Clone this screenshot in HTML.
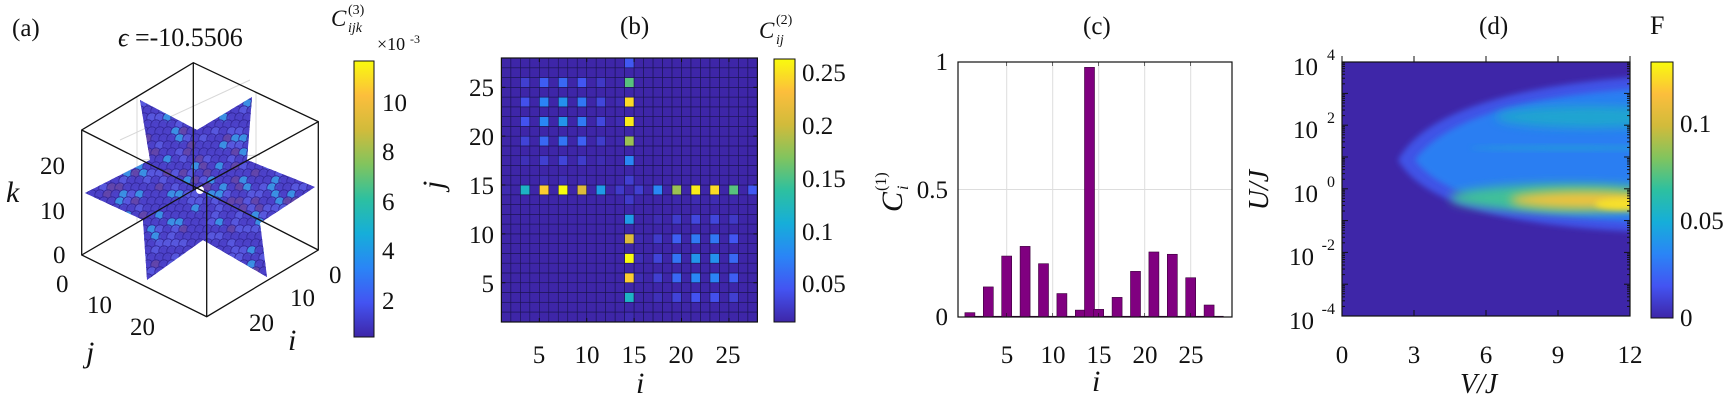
<!DOCTYPE html>
<html><head><meta charset="utf-8"><style>
html,body{margin:0;padding:0;background:#fff;}
svg{display:block;}
text{font-family:"Liberation Serif",serif;fill:#111;}
.t{font-size:25px;}
.it{font-style:italic;}
</style></head><body>
<svg id="s" width="1725" height="403" viewBox="0 0 1725 403" xmlns="http://www.w3.org/2000/svg">
<defs>
<linearGradient id="par" x1="0" y1="1" x2="0" y2="0">
<stop offset="0" stop-color="#3e26a8"/><stop offset="0.125" stop-color="#4354f2"/>
<stop offset="0.25" stop-color="#2a85f6"/><stop offset="0.375" stop-color="#16aed9"/>
<stop offset="0.5" stop-color="#2dc0a0"/><stop offset="0.625" stop-color="#81c45e"/>
<stop offset="0.75" stop-color="#d1bb3b"/><stop offset="0.875" stop-color="#fcbe3c"/>
<stop offset="1" stop-color="#f9fb0e"/></linearGradient>
<filter id="bl" x="-20%" y="-80%" width="140%" height="260%"><feGaussianBlur stdDeviation="5"/></filter>
<filter id="bl2" x="-20%" y="-50%" width="140%" height="200%"><feGaussianBlur stdDeviation="3"/></filter>
<clipPath id="dclip"><rect x="1342" y="62" width="288" height="254"/></clipPath>
<clipPath id="star"><path d="M85,193 L150,160 L140,100 L197,130 L252,97 L247,160 L315,187 L260,223 L267,277 L203,240 L147,280 L143,220 Z"/></clipPath>
</defs>

<!-- ===== Panel (a) ===== -->
<text class="t" x="12" y="36">(a)</text>
<text class="t" x="118" y="46" style="font-size:26px"><tspan class="it">ϵ</tspan> =-10.5506</text>
<text class="t it" x="331" y="26" style="font-size:23px">C</text>
<text x="348" y="14" style="font-size:14px">(3)</text>
<text class="it" x="348" y="32" style="font-size:14px">ijk</text>
<text x="377" y="50" style="font-size:18px">×10</text>
<text x="410" y="43" style="font-size:12px">-3</text>
<g stroke="#d8d8d8" stroke-width="1" fill="none">
<line x1="137" y1="96" x2="137" y2="222"/><line x1="256" y1="92" x2="256" y2="220"/>
<line x1="140" y1="160" x2="260" y2="155"/><line x1="120" y1="140" x2="250" y2="80"/>
</g>
<g id="stars" clip-path="url(#star)">
<path d="M85,193 L150,160 L140,100 L197,130 L252,97 L247,160 L315,187 L260,223 L267,277 L203,240 L147,280 L143,220 Z" fill="#4336c4"/>
</g>
<g stroke="#111" stroke-width="1.3" fill="none">
<polygon points="193.3,62.7 318.3,121.7 318.3,250 206.7,316.7 81.7,255 81.7,130"/>
<line x1="193.3" y1="62.7" x2="193.3" y2="190"/><line x1="193.3" y1="190" x2="81.7" y2="255"/><line x1="193.3" y1="190" x2="318.3" y2="121.7"/>
<line x1="206.7" y1="316.7" x2="206.7" y2="193"/><line x1="206.7" y1="193" x2="81.7" y2="130"/><line x1="206.7" y1="193" x2="318.3" y2="250"/>
</g>
<g class="t">
<text x="40" y="174">20</text><text x="40" y="219">10</text><text x="53" y="263">0</text>
<text x="56" y="292">0</text><text x="87" y="313">10</text><text x="130" y="335">20</text>
<text x="329" y="283">0</text><text x="290" y="306">10</text><text x="249" y="331">20</text>
</g>
<text class="t it" x="6" y="202" style="font-size:30px">k</text>
<text class="t it" x="86" y="362" style="font-size:30px">j</text>
<text class="t it" x="288" y="350" style="font-size:30px">i</text>
<rect x="354" y="61" width="20" height="276" fill="url(#par)" stroke="#111" stroke-width="1"/>
<g class="t"><text x="382" y="111">10</text><text x="382" y="160">8</text><text x="382" y="210">6</text><text x="382" y="259">4</text><text x="382" y="309">2</text></g>

<!-- ===== Panel (b) ===== -->
<text class="t" x="620" y="34">(b)</text>
<text class="t it" x="759" y="38" style="font-size:23px">C</text>
<text x="776" y="24" style="font-size:14px">(2)</text>
<text class="it" x="776" y="44" style="font-size:14px">ij</text>
<rect x="501.4" y="58" width="256" height="264" fill="#3e26a8"/>
<g id="bgrid"></g>
<rect x="501.4" y="58" width="256" height="264" fill="none" stroke="#111" stroke-width="1.2"/>
<g class="t" text-anchor="end"><text x="494" y="96">25</text><text x="494" y="145">20</text><text x="494" y="194">15</text><text x="494" y="243">10</text><text x="494" y="292">5</text></g>
<g class="t" text-anchor="middle"><text x="539" y="363">5</text><text x="587" y="363">10</text><text x="634" y="363">15</text><text x="681" y="363">20</text><text x="728" y="363">25</text></g>
<text class="t it" x="636" y="393" style="font-size:30px">i</text>
<text class="t it" transform="translate(443,185) rotate(-90)" text-anchor="middle" style="font-size:30px">j</text>
<rect x="774" y="59" width="21" height="263" fill="url(#par)" stroke="#111" stroke-width="1"/>
<g class="t"><text x="802" y="81">0.25</text><text x="802" y="134">0.2</text><text x="802" y="187">0.15</text><text x="802" y="240">0.1</text><text x="802" y="292">0.05</text></g>

<!-- ===== Panel (c) ===== -->
<text class="t" x="1083" y="34">(c)</text>
<g stroke="#ddd" stroke-width="1">
<line x1="1006.7" y1="62" x2="1006.7" y2="317"/><line x1="1052.7" y1="62" x2="1052.7" y2="317"/>
<line x1="1098.7" y1="62" x2="1098.7" y2="317"/><line x1="1144.7" y1="62" x2="1144.7" y2="317"/>
<line x1="1190.7" y1="62" x2="1190.7" y2="317"/><line x1="958" y1="189.5" x2="1232" y2="189.5"/>
</g>
<g id="bars" fill="#800080" stroke="#3a003a" stroke-width="0.6"></g>
<rect x="958" y="62" width="274" height="255" fill="none" stroke="#111" stroke-width="1.2"/>
<g class="t" text-anchor="end"><text x="948" y="70">1</text><text x="948" y="198">0.5</text><text x="948" y="325">0</text></g>
<g class="t" text-anchor="middle"><text x="1007" y="363">5</text><text x="1053" y="363">10</text><text x="1099" y="363">15</text><text x="1145" y="363">20</text><text x="1191" y="363">25</text></g>
<text class="t it" x="1092" y="391" style="font-size:30px">i</text>
<g transform="translate(902,212) rotate(-90)"><text class="t it" x="0" y="0" style="font-size:30px">C</text><text x="21" y="-16" style="font-size:16px">(1)</text><text class="it" x="22" y="6" style="font-size:16px">i</text></g>

<!-- ===== Panel (d) ===== -->
<text class="t" x="1479" y="34">(d)</text>
<text class="t" x="1650" y="34" style="font-size:26px">F</text>
<rect x="1342" y="62" width="288" height="254" fill="#3e26a8"/>
<g clip-path="url(#dclip)">
<path d="M1650,76 C1520,84 1425,110 1398,160 C1425,207 1520,228 1650,232 Z" fill="#3f52e6" filter="url(#bl2)"/>
<path d="M1650,88 C1530,94 1445,118 1415,160 C1445,200 1530,218 1650,222 Z" fill="#2b7ef2" filter="url(#bl2)"/>
<ellipse cx="1590" cy="117" rx="95" ry="11" fill="#1fafc8" filter="url(#bl)" opacity="0.8"/>
<ellipse cx="1570" cy="148" rx="100" ry="2.5" fill="#22a9d0" filter="url(#bl2)" opacity="0.6"/>
<ellipse cx="1570" cy="198" rx="120" ry="14" fill="#3fc09a" filter="url(#bl)"/>
<ellipse cx="1585" cy="200" rx="75" ry="9" fill="#eec23e" filter="url(#bl)"/>
<ellipse cx="1625" cy="204" rx="30" ry="6" fill="#f7e02a" filter="url(#bl2)"/>
</g>
<rect x="1342" y="62" width="288" height="254" fill="none" stroke="#111" stroke-width="1.2"/>
<g id="dticks" stroke="#111" stroke-width="1"></g>
<g class="t" text-anchor="end">
<text x="1318" y="75">10</text><text x="1335" y="60" style="font-size:16px">4</text>
<text x="1318" y="138">10</text><text x="1335" y="123" style="font-size:16px">2</text>
<text x="1318" y="202">10</text><text x="1335" y="187" style="font-size:16px">0</text>
<text x="1314" y="265">10</text><text x="1335" y="250" style="font-size:16px">-2</text>
<text x="1314" y="329">10</text><text x="1335" y="314" style="font-size:16px">-4</text>
</g>
<g class="t" text-anchor="middle"><text x="1342" y="363">0</text><text x="1414" y="363">3</text><text x="1486" y="363">6</text><text x="1558" y="363">9</text><text x="1630" y="363">12</text></g>
<text class="t it" x="1460" y="393" style="font-size:28px">V/J</text>
<text class="t it" transform="translate(1268,190) rotate(-90)" text-anchor="middle" style="font-size:28px">U/J</text>
<rect x="1651" y="62" width="22" height="256" fill="url(#par)" stroke="#111" stroke-width="1"/>
<g class="t"><text x="1680" y="132">0.1</text><text x="1680" y="229">0.05</text><text x="1680" y="326">0</text></g>
</svg>
<script>
var NS="http://www.w3.org/2000/svg";
function el(p,t,a){var e=document.createElementNS(NS,t);for(var k in a)e.setAttribute(k,a[k]);p.appendChild(e);return e;}
var stops=[[0,[62,38,168]],[0.125,[67,84,242]],[0.25,[42,133,246]],[0.375,[22,174,217]],[0.5,[45,192,160]],[0.625,[129,196,94]],[0.75,[209,187,59]],[0.875,[252,190,60]],[1,[249,251,14]]];
function par(t){t=Math.max(0,Math.min(1,t));for(var i=1;i<stops.length;i++){if(t<=stops[i][0]){var a=stops[i-1],b=stops[i],f=(t-a[0])/(b[0]-a[0]);return "rgb("+[0,1,2].map(function(k){return Math.round(a[1][k]+f*(b[1][k]-a[1][k]))}).join(",")+")";}}return "rgb(249,251,14)";}
var c1={1:0.017,3:0.118,5:0.239,7:0.277,9:0.209,11:0.092,13:0.027,15:0.03,17:0.077,19:0.179,21:0.255,23:0.246,25:0.154,27:0.047};
var g=document.getElementById("bgrid");
var lo=0.0133,hi=0.2626,cw=9.48,ch=9.77;
for(var i=1;i<=27;i++)for(var j=1;j<=27;j++){
 var v=0.005;
 if(j==14&&c1[i])v=c1[i];
 else if(i==14&&c1[j])v=c1[j];
 else if(i<=13&&j>=15&&c1[i]&&c1[j]&&i>1&&j<27)v=0.01+1.1*c1[i]*c1[j];
 else if(i>=15&&j<=13&&c1[i]&&c1[j]&&i<27&&j>1)v=0.01+1.1*c1[i]*c1[j];
 var x=501.4+(i-1)*cw,y=321.8-j*ch;
 el(g,"rect",{x:x,y:y,width:cw,height:ch,fill:par((v-lo)/(hi-lo)),stroke:"#1a1450","stroke-width":0.6});
}
[5,10,15,20,25].forEach(function(t){var x=501.4+(t-1)*cw;el(g,"line",{x1:x,y1:322,x2:x,y2:318,stroke:"#111"});el(g,"line",{x1:x,y1:58,x2:x,y2:62,stroke:"#111"});
var y=321.8-(t-1)*ch;el(g,"line",{x1:501.4,y1:y,x2:505.4,y2:y,stroke:"#111"});el(g,"line",{x1:757.4,y1:y,x2:753.4,y2:y,stroke:"#111"});});
var bg=document.getElementById("bars");
for(var i=1;i<=28;i++){var v=c1[i]||(i==14?0.979:0.003);var x=960.7+9.2*i-5;el(bg,"rect",{x:x,y:317-v*255,width:10,height:v*255});}
[5,10,15,20,25].forEach(function(t){var x=960.7+9.2*t;el(bg,"line",{x1:x,y1:62,x2:x,y2:66,stroke:"#111"});el(bg,"line",{x1:x,y1:317,x2:x,y2:313,stroke:"#111"});});
var dt=document.getElementById("dticks");
for(var d=-4;d<4;d++){for(var m=1;m<10;m++){var y=316-(d+4+Math.log10(m))*31.8;var L=m==1?6:3;el(dt,"line",{x1:1342,y1:y,x2:1342+L,y2:y});el(dt,"line",{x1:1630,y1:y,x2:1630-L,y2:y});}}
[0,3,6,9,12].forEach(function(t){var x=1342+t*24;el(dt,"line",{x1:x,y1:316,x2:x,y2:310});el(dt,"line",{x1:x,y1:62,x2:x,y2:56});});
var sg=document.getElementById("stars");
var seed=7;function rnd(){seed=(seed*9301+49297)%233280;return seed/233280;}
for(var yy=90;yy<290;yy+=7){var off=(Math.round((yy-90)/7)%2)*4;for(var xx=80;xx<320;xx+=8){
 var r=rnd();var col=r<0.1?"#3aa6ee":(r<0.3?"#5d60e6":(r<0.4?"#6a4aa8":"#4f45cc"));
 el(sg,"circle",{cx:xx+off,cy:yy,r:5.2,fill:col,"fill-opacity":0.8,stroke:"#33289a","stroke-width":0.8});}}
el(sg,"circle",{cx:200,cy:190,r:4,fill:"#fff"});
</script>
</body></html>
